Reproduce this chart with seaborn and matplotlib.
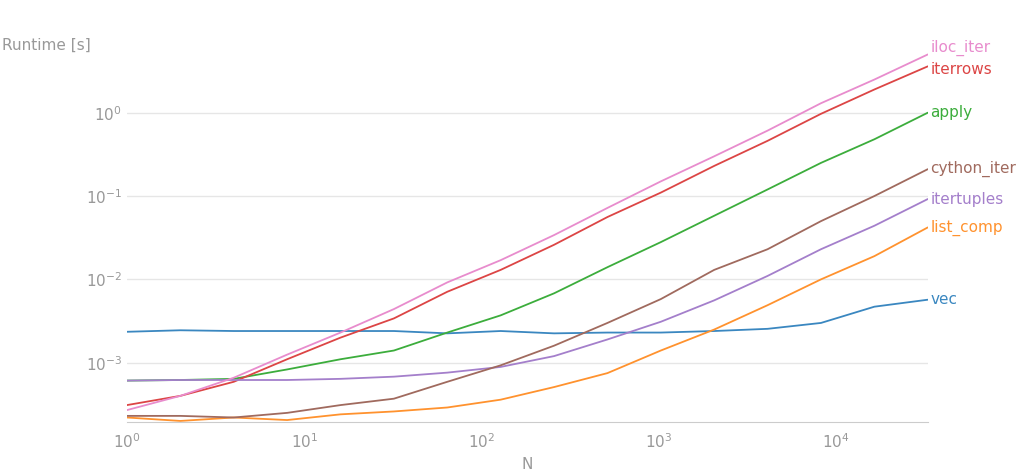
import numpy as np
import pandas as pd
import matplotlib
matplotlib.use("Agg")
import matplotlib.pyplot as plt
import seaborn as sns

N = [2 ** k for k in range(16)]
vec = [2.35e-3, 2.45e-3, 2.4e-3, 2.4e-3, 2.4e-3, 2.4e-3, 2.25e-3, 2.4e-3,
       2.25e-3, 2.3e-3, 2.3e-3, 2.4e-3, 2.55e-3, 3.0e-3, 4.7e-3, 5.7e-3]
list_comp = [2.2e-4, 2.0e-4, 2.2e-4, 2.05e-4, 2.4e-4, 2.6e-4, 2.9e-4, 3.6e-4,
             5.1e-4, 7.5e-4, 1.4e-3, 2.5e-3, 4.9e-3, 1.0e-2, 1.9e-2, 4.2e-2]
itertuples = [6.1e-4, 6.2e-4, 6.2e-4, 6.2e-4, 6.4e-4, 6.8e-4, 7.6e-4, 8.9e-4,
              1.2e-3, 1.9e-3, 3.1e-3, 5.6e-3, 1.1e-2, 2.3e-2, 4.4e-2, 9.2e-2]
cython_iter = [2.3e-4, 2.3e-4, 2.2e-4, 2.5e-4, 3.1e-4, 3.7e-4, 5.9e-4, 9.3e-4,
               1.6e-3, 3.0e-3, 5.8e-3, 1.3e-2, 2.3e-2, 5.0e-2, 1.0e-1, 2.1e-1]
apply = [6.1e-4, 6.2e-4, 6.4e-4, 8.3e-4, 1.1e-3, 1.4e-3, 2.3e-3, 3.7e-3,
         6.8e-3, 1.4e-2, 2.8e-2, 5.8e-2, 1.2e-1, 2.5e-1, 4.8e-1, 1.0]
iterrows = [3.1e-4, 4.0e-4, 5.9e-4, 1.1e-3, 2.0e-3, 3.4e-3, 7.1e-3, 1.3e-2,
            2.6e-2, 5.6e-2, 1.1e-1, 2.3e-1, 4.6e-1, 9.7e-1, 1.9, 3.6]
iloc_iter = [2.7e-4, 4.0e-4, 6.6e-4, 1.25e-3, 2.3e-3, 4.4e-3, 9.2e-3, 1.7e-2,
             3.4e-2, 7.2e-2, 1.5e-1, 3.0e-1, 6.1e-1, 1.3, 2.5, 5.0]

series = {
    "vec": vec, "list_comp": list_comp, "apply": apply, "iterrows": iterrows,
    "itertuples": itertuples, "cython_iter": cython_iter, "iloc_iter": iloc_iter,
}
colors = {
    "vec": "#3a87c0", "list_comp": "#ff922e", "apply": "#3cad3c", "iterrows": "#dc4545",
    "itertuples": "#a47fcb", "cython_iter": "#a06a5e", "iloc_iter": "#e88ccd",
}
# small vertical nudges (points) so end labels don't collide
nudge = {"iloc_iter": 5, "iterrows": -2}

df = pd.DataFrame([(n, name, v) for name, vals in series.items() for n, v in zip(N, vals)],
                  columns=["N", "method", "runtime"])

sns.set_style("white")
grey = "#999999"
fig = plt.figure(figsize=(10.24, 4.74), dpi=100)
ax = fig.add_axes([0.124, 0.11, 0.782, 0.805])
sns.lineplot(data=df, x="N", y="runtime", hue="method", palette=colors,
             legend=False, ax=ax, linewidth=1.3)
ax.set_xscale("log")
ax.set_yscale("log")
ax.set_xlim(1, N[-1])
ax.set_ylim(1.95e-4, 7.4)
ax.yaxis.grid(True, which="major", color="#e6e6e6", linewidth=1)
ax.set_yticks([1e-3, 1e-2, 1e-1, 1])
ax.minorticks_off()
for s in ["top", "right", "left"]:
    ax.spines[s].set_visible(False)
ax.spines["bottom"].set_color("#cccccc")
ax.tick_params(axis="both", colors=grey, labelsize=11, length=0)
ax.tick_params(axis="x", length=4, color="#cccccc")
ax.set_xlabel("N", color=grey, fontsize=11)
ax.set_ylabel("")
fig.text(0.002, 0.905, "Runtime [s]", color=grey, fontsize=11, ha="left", va="center")

for name, vals in series.items():
    ax.annotate(name, (N[-1], vals[-1]), xytext=(2, nudge.get(name, 0)),
                textcoords="offset points", color=colors[name], fontsize=11,
                va="center", ha="left", annotation_clip=False)

fig.savefig("out.png", dpi=100)
